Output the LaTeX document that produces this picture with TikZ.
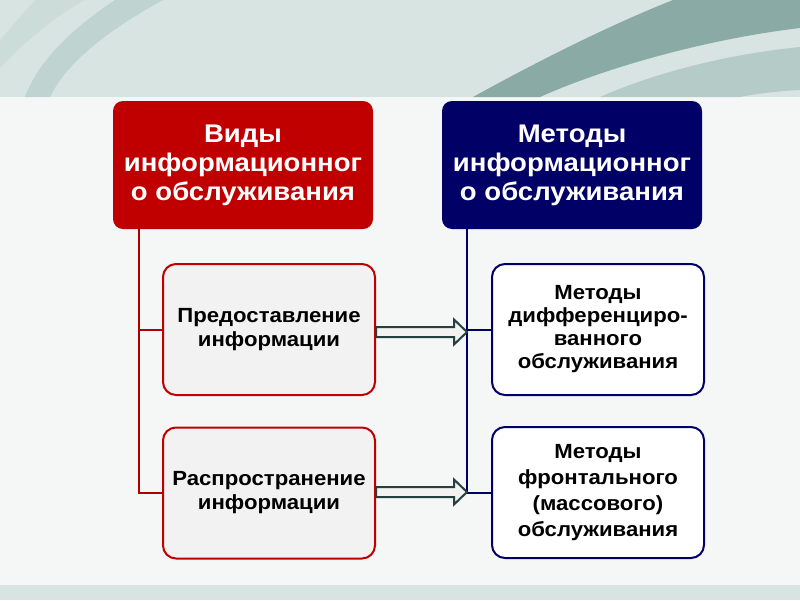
\documentclass[tikz,border=0pt]{standalone}
\usepackage{fontspec}
\setmainfont{Liberation Sans}[FakeStretch=1.08]
\usetikzlibrary{calc}
\definecolor{bandc}{HTML}{D8E4E2}
\definecolor{mainbg}{HTML}{F5F7F7}
\definecolor{darkteal}{HTML}{89AAA5}
\definecolor{midteal}{HTML}{B4CBC8}
\definecolor{stripe1}{HTML}{BFD3D0}
\definecolor{stripe2}{HTML}{CCDCD9}
\definecolor{redc}{HTML}{C00000}
\definecolor{navyc}{HTML}{000066}
\definecolor{arrowc}{HTML}{264040}
\definecolor{subfill}{HTML}{F2F2F2}
\tikzset{
  headbox/.style={rounded corners=10pt, minimum width=260pt, minimum height=128pt,
    text=white, font=\bfseries\fontsize{25.5}{29}\selectfont, align=center, inner sep=0pt},
  subbox/.style={line width=2pt, rounded corners=13pt, minimum width=212pt,
    minimum height=131pt, align=center, inner sep=0pt, text=black},
  redline/.style={draw=redc!90!black, line width=2pt},
  navyline/.style={draw=navyc, line width=2pt},
  blockarrow/.style={draw=arrowc, fill=subfill, line width=2pt, line join=miter},
}
\begin{document}
\begin{tikzpicture}[x=1pt,y=-1pt]
% background
\fill[mainbg] (0,0) rectangle (800,600);
\useasboundingbox (0,0) rectangle (800,600);
\fill[bandc] (0,0) rectangle (800,97);
\fill[bandc] (0,585) rectangle (800,600);
% left stripes
\fill[stripe2] (35,0) .. controls (22,15) and (10,28) .. (0,40) -- (0,68) .. controls (25,42) and (52,18) .. (85,0) -- cycle;
\fill[stripe1] (115,0) .. controls (70,30) and (38,62) .. (25,97) -- (50,97) .. controls (68,60) and (112,28) .. (163,0) -- cycle;
% right swirls
\fill[darkteal] (673,0) -- (800,0) -- (800,28) .. controls (700,40) and (600,70) .. (540,97) -- (473,97) .. controls (540,60) and (610,25) .. (673,0) -- cycle;
\fill[midteal] (800,47) .. controls (720,55) and (650,75) .. (600,97) -- (740,97) .. controls (760,93) and (780,91) .. (800,90) -- cycle;
% header boxes
\node[headbox, fill=redc] (h1) at (243,165) {Виды\\информационног\\о обслуживания};
\node[headbox, fill=navyc] (h2) at (572,165) {Методы\\информационног\\о обслуживания};
% sub boxes
\node[subbox, draw=redc, fill=subfill, font=\bfseries\fontsize{20.5}{24}\selectfont] (s1) at (269,329.5) {Предоставление\\информации};
\node[subbox, draw=redc, fill=subfill, font=\bfseries\fontsize{20.5}{24}\selectfont] (s2) at (269,493) {Распространение\\информации};
\node[subbox, draw=navyc, fill=white, font=\bfseries\fontsize{20.5}{23}\selectfont] (m1) at (598,329.5) {Методы\\дифференциро-\\ванного\\обслуживания};
\node[subbox, draw=navyc, fill=white, font=\bfseries\fontsize{20.5}{26}\selectfont] (m2) at (598,492.5) {Методы\\фронтального\\(массового)\\обслуживания};
% connector trees
\coordinate (r0) at ($(h1.south west)+(26,0)$);
\draw[redline] (r0) |- (s2.west);
\draw[redline] (r0 |- s1.west) -- (s1.west);
\coordinate (n0) at ($(h2.south west)+(25,0)$);
\draw[navyline] (n0) |- (m2.west);
\draw[navyline] (n0 |- m1.west) -- (m1.west);
% block arrows
\coordinate (a1) at ($(s1.east)+(0,2.5)$);
\coordinate (a2) at ($(s2.east)+(0,-1)$);
\foreach \a in {a1,a2}{
  \draw[blockarrow] ($(\a)+(0,-5)$) -- ($(\a)+(78,-5)$) -- ($(\a)+(78,-12.5)$) -- ($(\a)+(91,0)$) -- ($(\a)+(78,12.5)$) -- ($(\a)+(78,5)$) -- ($(\a)+(0,5)$) -- cycle;
}
\end{tikzpicture}
\end{document}
